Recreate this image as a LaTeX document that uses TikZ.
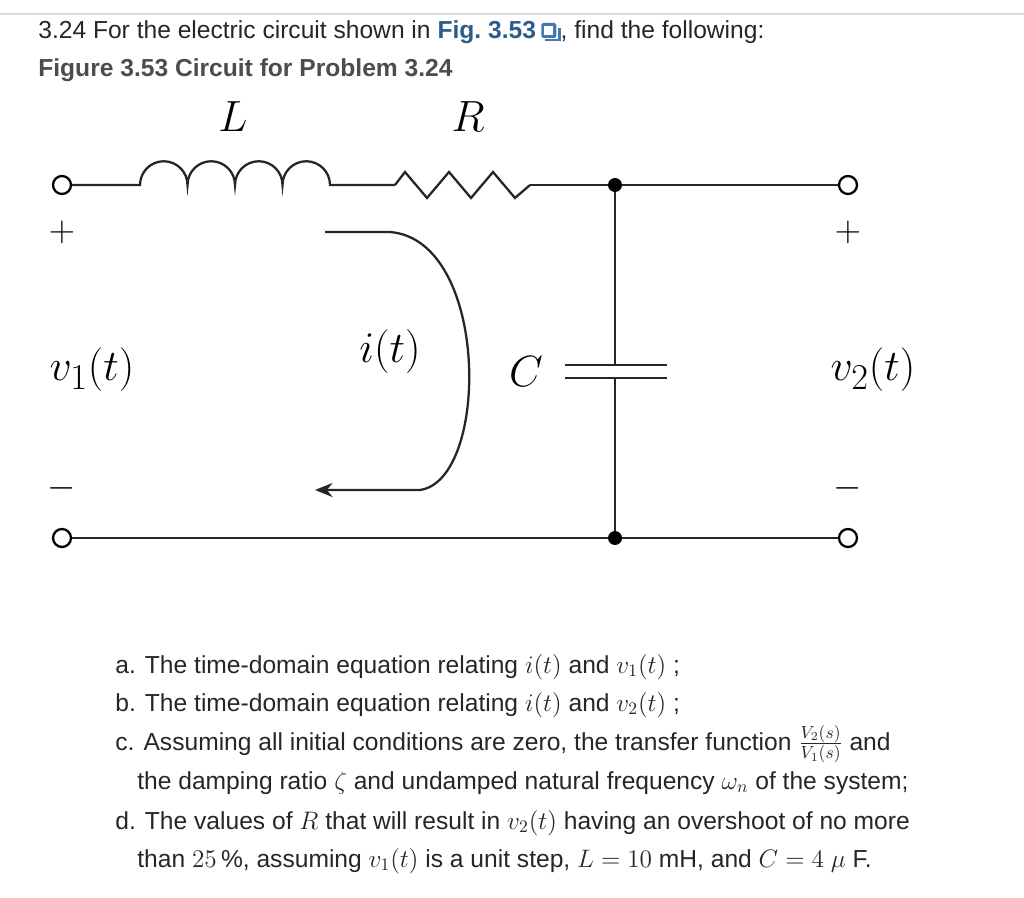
\documentclass[tikz,border=0pt]{standalone}
\usepackage{fontspec}
\setmainfont{Liberation Sans}
\usetikzlibrary{arrows.meta}
\definecolor{iconblue}{RGB}{70,120,180}
\definecolor{linkblue}{HTML}{2E5B8C}
\begin{document}
\begin{tikzpicture}[x=0.02cm,y=-0.02cm,
  wire/.style={line width=1.3pt,black!85},
  term/.style={circle,draw,line width=1.3pt,minimum size=0.36cm,inner sep=0pt,fill=white},
  jdot/.style={circle,fill=black,minimum size=0.28cm,inner sep=0pt},
  lbl/.style={font=\fontsize{28}{30}\selectfont},
  txt/.style={anchor=base west,font=\fontsize{14}{16}\selectfont,inner sep=0pt,text=black!85}]
\useasboundingbox (0,0) rectangle (1024,898);
\draw[black!15,line width=0.8pt] (0,14) -- (1024,14);
\node[txt] (h1) at (38,39) {3.24 For the electric circuit shown in \textcolor{linkblue}{\textbf{Fig.~3.53}}};
\coordinate (ic) at ([xshift=0.1cm]h1.base east);
\fill[rounded corners=1pt,iconblue] ([yshift=0.02cm]ic) rectangle ++(15,-15);
\fill[white] ([xshift=0.06cm,yshift=0.08cm]ic) rectangle ++(9,-9);
\draw[line width=1.4pt,iconblue] ([xshift=0.08cm,yshift=-0.02cm]ic) -- ++(14,0) -- ++(0,-12);
\node[txt] (h1b) at ([xshift=0.48cm]h1.base east) {, find the following:};
\node[txt,font=\fontsize{14}{16}\selectfont\bfseries,text=black!70] (h2) at (38,77) {Figure 3.53 Circuit for Problem 3.24};
% terminals
\node[term] (t1) at (62,185) {};
\node[term] (t2) at (848,185) {};
\node[term] (t3) at (62,538) {};
\node[term] (t4) at (848,538) {};
\node[jdot] (j1) at (615,185) {};
\node[jdot] (j2) at (615,538) {};
\coordinate (la) at (140,185);
\coordinate (rb) at (395,185);
\coordinate (ce) at (530,185);
% inductor
\draw[wire] (t1) -- (la) arc[start angle=180,end angle=360,radius=23.75] arc[start angle=180,end angle=360,radius=23.75] arc[start angle=180,end angle=360,radius=23.75] arc[start angle=180,end angle=360,radius=23.75] -- (rb);
% resistor
\draw[wire] (rb) -- (405,172) -- (427,198) -- (449,172) -- (471,198) -- (493,172) -- (515,198) -- (ce);
\draw[wire] (ce) -- (j1) -- (t2);
\draw[wire] (t3) -- (j2) -- (t4);
% capacitor
\coordinate (p1) at (615,365);
\coordinate (p2) at (615,378);
\draw[wire] (j1) -- (p1);
\draw[wire] (p2) -- (j2);
\draw[wire] (565,365) -- (667,365);
\draw[wire] (565,378) -- (667,378);
% current arrow
\coordinate (a0) at (325,232);
\coordinate (a1) at (315,490);
\draw[wire,-{Stealth[length=10pt,width=8pt]}] (a0) -- (390,232) .. controls (490,240) and (490,480) .. (420,490) -- (a1);
% labels
\node[lbl] (L) at (233,117) {$L$};
\node[lbl] (R) at (468,117) {$R$};
\node[font=\fontsize{22}{24}\selectfont] (pl) at (62,232) {$+$};
\node[font=\fontsize{22}{24}\selectfont] (pr) at (848,232) {$+$};
\node[font=\fontsize{22}{24}\selectfont] (ml) at (62,488) {$-$};
\node[font=\fontsize{22}{24}\selectfont] (mr) at (848,488) {$-$};
\node[lbl] (v1) at (92,370) {$v_1(t)$};
\node[lbl] (it) at (390,352) {$i(t)$};
\node[lbl] (C) at (526,372) {$C$};
\node[lbl] (v2) at (873,370) {$v_2(t)$};
% questions
\node[txt] (qa) at (115,673) {a. The time-domain equation relating $i(t)$ and $v_1(t)$ ;};
\node[txt] (qb) at (115,711) {b. The time-domain equation relating $i(t)$ and $v_2(t)$ ;};
\node[txt] (qc) at (115,750) {c. Assuming all initial conditions are zero, the transfer function $\frac{V_2(s)}{V_1(s)}$ and};
\node[txt] (qc2) at (137,789) {the damping ratio $\zeta$ and undamped natural frequency $\omega_n$ of the system;};
\node[txt] (qd) at (115,829) {d. The values of $R$ that will result in $v_2(t)$ having an overshoot of no more};
\node[txt] (qd2) at (137,867) {than $25\,\%$, assuming $v_1(t)$ is a unit step, $L=10$ mH, and $C=4\ \mu$ F.};
\end{tikzpicture}
\end{document}
